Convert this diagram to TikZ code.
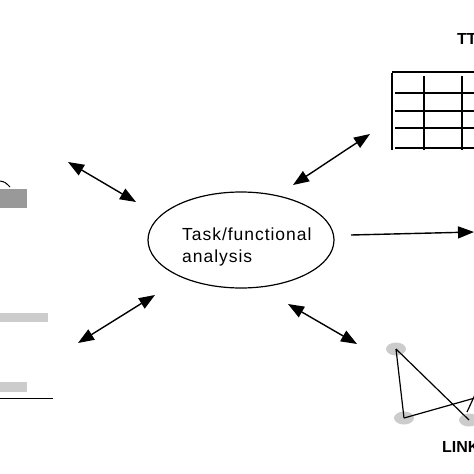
\documentclass[tikz,border=0pt]{standalone}
\usepackage{fontspec}
\setmainfont{Liberation Sans}
\usetikzlibrary{arrows.meta,shapes.geometric}
\begin{document}
\begin{tikzpicture}[x=1pt,y=-1pt,
  conn/.style={line width=1.4pt},
  dbl/.style={conn,{Triangle[length=16pt,width=12pt]}-{Triangle[length=16pt,width=12pt]}},
  sgl/.style={conn,-{Triangle[length=16pt,width=12pt]}},
  gridline/.style={line width=1.4pt},
  lnode/.style={ellipse,fill=black!20,draw=none,minimum width=20pt,minimum height=13pt,inner sep=0pt},
  linkline/.style={line width=1.2pt},
  lab/.style={font=\bfseries\fontsize{16}{18}\selectfont,anchor=base west,inner sep=0pt},
  txt/.style={font=\fontsize{17.5}{22}\selectfont\addfontfeature{LetterSpace=5.5},anchor=base west,inner sep=0pt},
]
\useasboundingbox (0,0) rectangle (474,474);
\clip (0,0) rectangle (474,474);
\fill[white] (0,0) rectangle (474,474);

% central ellipse
\node[ellipse,draw,line width=1.2pt,minimum width=186pt,minimum height=96pt] (task) at (241,240) {};
\node[txt] (t1) at (182,240) {Task/functional};
\node[txt] (t2) at (182,262) {analysis};

% left side items
\fill[black!40] (0,189) rectangle (27,208);
\draw[line width=1pt] (0,181) .. controls (5,182) .. (10,187);
\fill[black!20] (0,313) rectangle (48,322);
\fill[black!20] (0,382) rectangle (27,392);
\draw[line width=1pt] (0,398) -- (53,398);

% table (TTA)
\node[lab] (tta) at (457,44) {TTA};
\draw[gridline] (392,72) -- (474,72);
\draw[gridline] (392,73) -- (392,150);
\foreach \yy in {93,111,128,148} \draw[gridline] (395,\yy) -- (474,\yy);
\draw[gridline] (424,76) -- (424,150);
\draw[gridline] (462,76) -- (462,150);

% link analysis
\node[lnode] (n1) at (396,349) {};
\node[lnode] (n2) at (404,418) {};
\node[lnode] (n3) at (469,420) {};
\coordinate (off1) at (482,396);
\coordinate (off2) at (479,386);
\draw[linkline] (n1.center) -- (n2.center);
\draw[linkline] (n1.center) -- (n3.center);
\draw[linkline] (n2.center) -- (off1);
\draw[linkline] (467,412) -- (off2);
\node[lab] (link) at (442,452) {LINK};

% arrows
\coordinate (a1s) at (68,162);  \coordinate (a1e) at (136,202);
\coordinate (a2s) at (78,343);  \coordinate (a2e) at (155,295);
\coordinate (a3s) at (293,185); \coordinate (a3e) at (370,134);
\coordinate (a4s) at (351,235); \coordinate (a4e) at (474,232);
\coordinate (a5s) at (288,304); \coordinate (a5e) at (357,344);
\draw[dbl] (a1s) -- (a1e);
\draw[dbl] (a2s) -- (a2e);
\draw[dbl] (a3s) -- (a3e);
\draw[sgl] (a4s) -- (a4e);
\draw[dbl] (a5s) -- (a5e);
\end{tikzpicture}
\end{document}
